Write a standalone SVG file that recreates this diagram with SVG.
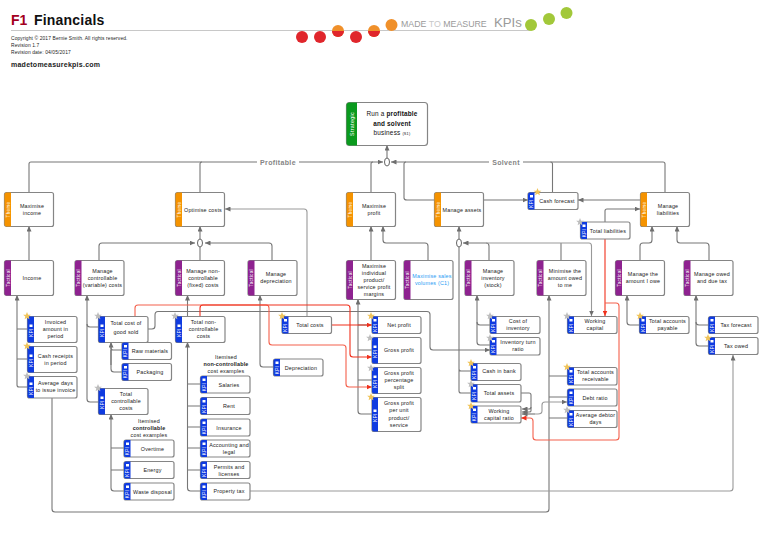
<svg xmlns="http://www.w3.org/2000/svg" width="768" height="547" viewBox="0 0 768 547">
<style>
text{font-family:"Liberation Sans",Arial,sans-serif}
.bg{fill:#fff}
.b{fill:#fff;stroke:#858585;stroke-width:1.2}
.k{fill:#0f3be0}.ta{fill:#8e2290}.th{fill:#f59300}.s{fill:#0a9a1e}
.t{font-size:5.4px;letter-spacing:.18px;text-anchor:middle;fill:#222}
.m{font-weight:bold}
.v{font-size:4.6px;letter-spacing:.3px;text-anchor:middle;fill:#fff}
.vw{font-size:5.4px;letter-spacing:.3px;text-anchor:middle;fill:#fff}
.c,.cl,.r,.rl{fill:none;stroke-linejoin:round}
.c{stroke:#777;stroke-width:1.1}
.cl{stroke:#999;stroke-width:1.1}
.r{stroke:#f0301c;stroke-width:1.1}
.rl{stroke:#f4604c;stroke-width:1.1}
.ar{marker-end:url(#ag)}
.arr{marker-end:url(#ar)}
.lab{font-size:7px;font-weight:bold;letter-spacing:.35px;text-anchor:middle;fill:#858585}
.o{fill:#fff;stroke:#666;stroke-width:1}
.gs{fill:#bdbdbd}.ys{fill:#f0c45a}
.i{fill:#fff}
</style>
<defs>
<marker id="ag" markerUnits="userSpaceOnUse" markerWidth="5.5" markerHeight="5" refX="5.5" refY="2.5" orient="auto"><path d="M0,0L5.5,2.5L0,5z" fill="#6e6e6e"/></marker>
<marker id="ar" markerUnits="userSpaceOnUse" markerWidth="5.5" markerHeight="5" refX="5.5" refY="2.5" orient="auto"><path d="M0,0L5.5,2.5L0,5z" fill="#f0301c"/></marker>
<polygon id="st" points="0,-4 1.1,-1.3 3.9,-1.2 1.7,.5 2.4,3.2 0,1.7 -2.4,3.2 -1.7,.5 -3.9,-1.2 -1.1,-1.3"/>
</defs>

<g id="header">
<line x1="11" y1="30.5" x2="530" y2="30.5" stroke="#c8c8c8" stroke-width="1"/>
<text x="11" y="25" font-size="14" font-weight="bold" fill="#a3001e">F1</text>
<text x="34" y="25" font-size="14" font-weight="bold" letter-spacing=".2" fill="#111">Financials</text>
<text x="11" y="40" font-size="4.9" letter-spacing=".12" fill="#222">Copyright © 2017 Bernie Smith. All rights reserved.</text>
<text x="11" y="47" font-size="4.9" letter-spacing=".12" fill="#222">Revision 1.7</text>
<text x="11" y="54" font-size="4.9" letter-spacing=".12" fill="#222">Revision date: 04/05/2017</text>
<text x="11" y="67" font-size="7" font-weight="bold" letter-spacing=".25" fill="#222">madetomeasurekpis.com</text>
<circle cx="338" cy="31" r="6" fill="#f0902a"/><path d="M332,31A6,6 0 0 0 344,31z" fill="#e0262c"/>
<circle cx="374" cy="31" r="6" fill="#f0902a"/><path d="M368,31A6,6 0 0 0 380,31z" fill="#e0262c"/>
<circle cx="302" cy="37" r="6" fill="#e0262c"/>
<circle cx="320" cy="37" r="6" fill="#e0262c"/>
<circle cx="356" cy="37" r="6" fill="#e0262c"/>
<circle cx="391.500" cy="25" r="6" fill="#f0902a"/>
<circle cx="531" cy="25" r="6" fill="#a2c83a"/>
<circle cx="549" cy="19" r="6" fill="#a2c83a"/>
<circle cx="566.500" cy="13" r="6" fill="#a2c83a"/>
<text x="401" y="27" font-size="8.800" fill="#9a9a9a">MADE <tspan fill="#c8c8c8">TO</tspan> MEASURE</text>
<text x="494" y="27" font-size="13.200" fill="#9a9a9a">KPIs</text>
</g>

<g id="connectors">
<path class="c" d="M29,192V164Q29,162 31,162H257M299,162H383" marker-end="url(#ag)"/>
<path class="c" d="M200,192V164Q200,162 202,162M371,192V164Q371,162 373,162"/>
<path class="c ar" d="M387,158V145"/>
<path class="c" d="M665,192V164Q665,162 663,162H523M489,162H391" marker-end="url(#ag)"/>
<path class="c" d="M552.500,192V164Q552.500,162 550.500,162"/>
<path class="c" d="M434,200H407Q404,200 404,198V164Q404,162 406,162"/>
<path class="c ar" d="M484,200H528"/>
<path class="c ar" d="M640,200H578"/>
<path class="c ar" d="M605,222V211Q605,209 607,209H640"/>
<path class="c ar" d="M29,260V226"/>
<path class="c ar" d="M99,260V246Q99,243 102,243H195"/>
<path class="c" d="M200,260V247"/>
<path class="c ar" d="M200,239V226"/>
<path class="c ar" d="M272,260V246Q272,243 269,243H205"/>
<path class="cl ar" d="M307,316V212Q307,209 304,209H225"/>
<path class="c ar" d="M371,260V226"/>
<path class="c ar" d="M428,260V246Q428,243 425,243H386Q383,243 383,240V226"/>
<path class="c ar" d="M459,239V226"/>
<path class="c ar" d="M489,260V246Q489,243 486,243H463"/>
<path class="c" d="M561,260V243"/>
<path class="cl ar" d="M486,243H589Q591.500,243 591.500,246V316"/>
<path class="c ar" d="M640,260V246Q640,243 643,243H649Q652,243 652,240V226"/>
<path class="c ar" d="M709,260V246Q709,243 706,243H680Q677,243 677,240V226"/>
<path class="c" d="M459,247V369Q459,371 461,371H471M459,369V391Q459,393 461,393H471"/>
<path class="c ar" d="M17,316V295"/>
<path class="c" d="M17,316V385Q17,387 19,387H27M17,329H27M17,359H27"/>
<path class="c ar" d="M98,327H90Q87,327 87,324V295"/>
<path class="c" d="M87,324V399Q87,402 90,402H98"/>
<path class="c ar" d="M111,365V342"/>
<path class="c" d="M111,345V348Q111,350 113,350H122M111,350V369Q111,372 114,372H122"/>
<path class="c ar" d="M111,440V414"/>
<path class="c" d="M111,440V488Q111,491 114,491H124M111,448H124M111,470H124"/>
<path class="c ar" d="M187.500,316V295"/>
<path class="c ar" d="M187.500,380V342"/>
<path class="c" d="M187.500,380V488Q187.500,491 190.500,491H200M187.500,384H200M187.500,406H200M187.500,427H200M187.500,448H200M187.500,470H200"/>
<path class="c ar" d="M273,367H263Q260,367 260,364V295"/>
<path class="c ar" d="M358,325V299"/>
<path class="c" d="M358,325V411Q358,414 361,414H372M358,325H372M358,350H372M358,380H372"/>
<path class="c ar" d="M490,325H480Q477,325 477,322V295"/>
<path class="c" d="M477,322V342Q477,345 480,345H490"/>
<path class="c ar" d="M549,340V295"/>
<path class="c" d="M549,340V509Q549,512 546,512H55Q52,512 52,509V398"/>
<path class="c" d="M549,376H567M549,397H567M549,418H567"/>
<path class="c ar" d="M639,325H630Q627,325 627,322V295"/>
<path class="c ar" d="M708,325H699Q696,325 696,322V295"/>
<path class="c" d="M696,322V343Q696,346 699,346H708"/>
<path class="cl ar" d="M250,491H730Q733,491 733,488V355"/>
<path class="c ar" d="M148,329H152Q155,329 155,326V315Q155,311.500 158,311.500H427Q430,311.500 430,314.500V347Q430,350 433,350H490"/>
<path class="c ar" d="M521,393H529Q531,393 531,395V407Q531,409 529,409H522"/>
<path class="c ar" d="M531,407V411Q531,412 529,412H522"/>
<path class="cl ar" d="M522,414H538Q542,414 542,411V405Q542,402 545,402H567"/>
<path class="cl ar" d="M535,414H522"/>
<path class="rl" d="M135,316V308Q135,305 138,305H266Q269,305 269,308V342Q269,345 272,345H343Q346,345 346,348V384Q346,387 349,387H372" marker-end="url(#ar)"/>
<path class="r arr" d="M200,316V308Q200,305 203,305H347Q350,305 350,308V354Q350,357 353,357H372"/>
<path class="r arr" d="M332,325H372"/>
<path class="r arr" d="M605,239V316"/>
<path class="rl arr" d="M605,303H616Q619,303 619,306V437Q619,440 616,440H536Q533,440 533,437V421Q533,418 530,418H521"/>
<ellipse class="o" cx="387" cy="162" rx="2.500" ry="4"/>
<ellipse class="o" cx="200" cy="243" rx="2.500" ry="4"/>
<ellipse class="o" cx="459" cy="243" rx="2.500" ry="4"/>
<text class="lab" x="278" y="164.500">Profitable</text>
<text class="lab" x="506" y="164.500">Solvent</text>
</g>

<g id="strategic-run"><rect class="b" x="346.500" y="102.500" width="81" height="43" rx="3"/><path class="s" d="M357,102.500H349.500q-3,0,-3,3V142.500q0,3,3,3H357z"/><text class="vw" x="354" y="124" transform="rotate(-90 354 124)">Strategic</text><text font-size="6.400" letter-spacing=".2" text-anchor="middle" fill="#111" x="392" y="116"><tspan x="392">Run a <tspan font-weight="bold">profitable</tspan></tspan><tspan x="392" dy="9.700" font-weight="bold">and solvent</tspan><tspan x="392" dy="9">business <tspan font-size="3.800">(S1)</tspan></tspan></text></g>

<g id="theme-maximise-income"><rect class="b" x="4.500" y="192.500" width="49" height="34" rx="2"/><path class="th" d="M11,192.500H6.500q-2,0,-2,2V224.500q0,2,2,2H11z"/><text class="v" x="9.500" y="209.500" transform="rotate(-90 9.500 209.500)">Theme</text><text class="t" y="207.500"><tspan x="32">Maximise</tspan><tspan x="32" dy="7">income</tspan></text></g>
<g id="theme-optimise-costs"><rect class="b" x="175.500" y="192.500" width="49" height="34" rx="2"/><path class="th" d="M182,192.500H177.500q-2,0,-2,2V224.500q0,2,2,2H182z"/><text class="v" x="180.500" y="209.500" transform="rotate(-90 180.500 209.500)">Theme</text><text class="t" x="203" y="211.500">Optimise costs</text></g>
<g id="theme-maximise-profit"><rect class="b" x="346.500" y="192.500" width="49" height="34" rx="2"/><path class="th" d="M353,192.500H348.500q-2,0,-2,2V224.500q0,2,2,2H353z"/><text class="v" x="351.500" y="209.500" transform="rotate(-90 351.500 209.500)">Theme</text><text class="t" y="207.500"><tspan x="374">Maximise</tspan><tspan x="374" dy="7">profit</tspan></text></g>
<g id="theme-manage-assets"><rect class="b" x="434.500" y="192.500" width="49" height="34" rx="2"/><path class="th" d="M441,192.500H436.500q-2,0,-2,2V224.500q0,2,2,2H441z"/><text class="v" x="439.500" y="209.500" transform="rotate(-90 439.500 209.500)">Theme</text><text class="t" x="462" y="211.500">Manage assets</text></g>
<g id="theme-manage-liabilities"><rect class="b" x="640.500" y="192.500" width="49" height="34" rx="2"/><path class="th" d="M647,192.500H642.500q-2,0,-2,2V224.500q0,2,2,2H647z"/><text class="v" x="645.500" y="209.500" transform="rotate(-90 645.500 209.500)">Theme</text><text class="t" y="207.500"><tspan x="668">Manage</tspan><tspan x="668" dy="7">liabilities</tspan></text></g>

<g id="tactical-income"><rect class="b" x="4.500" y="260.500" width="49" height="35" rx="2"/><path class="ta" d="M11,260.500H6.500q-2,0,-2,2V293.500q0,2,2,2H11z"/><text class="v" x="9.500" y="278" transform="rotate(-90 9.500 278)">Tactical</text><text class="t" x="32" y="279.500">Income</text></g>
<g id="tactical-controllable"><rect class="b" x="75" y="260.500" width="49" height="35" rx="2"/><path class="ta" d="M81.500,260.500H77q-2,0,-2,2V293.500q0,2,2,2H81.500z"/><text class="v" x="80" y="278" transform="rotate(-90 80 278)">Tactical</text><text class="t" y="272.500"><tspan x="102.500">Manage</tspan><tspan x="102.500" dy="7">controllable</tspan><tspan x="102.500" dy="7">(variable) costs</tspan></text></g>
<g id="tactical-non-controllable"><rect class="b" x="175.500" y="260.500" width="49" height="35" rx="2"/><path class="ta" d="M182,260.500H177.500q-2,0,-2,2V293.500q0,2,2,2H182z"/><text class="v" x="180.500" y="278" transform="rotate(-90 180.500 278)">Tactical</text><text class="t" y="272.500"><tspan x="203">Manage non-</tspan><tspan x="203" dy="7">controllable</tspan><tspan x="203" dy="7">(fixed) costs</tspan></text></g>
<g id="tactical-depreciation"><rect class="b" x="248" y="260.500" width="49" height="35" rx="2"/><path class="ta" d="M254.500,260.500H250q-2,0,-2,2V293.500q0,2,2,2H254.500z"/><text class="v" x="253" y="278" transform="rotate(-90 253 278)">Tactical</text><text class="t" y="275.500"><tspan x="276">Manage</tspan><tspan x="276" dy="7">depreciation</tspan></text></g>
<g id="tactical-margins"><rect class="b" x="346.500" y="260.500" width="49" height="39" rx="2"/><path class="ta" d="M353,260.500H348.500q-2,0,-2,2V297.500q0,2,2,2H353z"/><text class="v" x="351.500" y="280" transform="rotate(-90 351.500 280)">Tactical</text><text class="t" y="267.500"><tspan x="374">Maximise</tspan><tspan x="374" dy="7">individual</tspan><tspan x="374" dy="7">product/</tspan><tspan x="374" dy="7">service profit</tspan><tspan x="374" dy="7">margins</tspan></text></g>
<g id="tactical-sales"><rect class="b" x="404" y="260.500" width="49" height="39" rx="2"/><path class="ta" d="M410.500,260.500H406q-2,0,-2,2V297.500q0,2,2,2H410.500z"/><text class="v" x="409" y="280" transform="rotate(-90 409 280)">Tactical</text><text class="t" y="277.500" style="fill:#2a9df4"><tspan x="432">Maximise sales</tspan><tspan x="432" dy="7.500">volumes (C1)</tspan></text></g>
<g id="tactical-inventory"><rect class="b" x="465" y="260.500" width="49" height="35" rx="2"/><path class="ta" d="M471.500,260.500H467q-2,0,-2,2V293.500q0,2,2,2H471.500z"/><text class="v" x="470" y="278" transform="rotate(-90 470 278)">Tactical</text><text class="t" y="272.500"><tspan x="493">Manage</tspan><tspan x="493" dy="7">inventory</tspan><tspan x="493" dy="7">(stock)</tspan></text></g>
<g id="tactical-minimise"><rect class="b" x="537" y="260.500" width="49" height="35" rx="2"/><path class="ta" d="M543.500,260.500H539q-2,0,-2,2V293.500q0,2,2,2H543.500z"/><text class="v" x="542" y="278" transform="rotate(-90 542 278)">Tactical</text><text class="t" y="272.500"><tspan x="565">Minimise the</tspan><tspan x="565" dy="7">amount owed</tspan><tspan x="565" dy="7">to me</tspan></text></g>
<g id="tactical-amount-owe"><rect class="b" x="615.500" y="260.500" width="49" height="35" rx="2"/><path class="ta" d="M622,260.500H617.500q-2,0,-2,2V293.500q0,2,2,2H622z"/><text class="v" x="620.500" y="278" transform="rotate(-90 620.500 278)">Tactical</text><text class="t" y="275.500"><tspan x="643">Manage the</tspan><tspan x="643" dy="7">amount I owe</tspan></text></g>
<g id="tactical-tax"><rect class="b" x="684" y="260.500" width="49" height="35" rx="2"/><path class="ta" d="M690.500,260.500H686q-2,0,-2,2V293.500q0,2,2,2H690.500z"/><text class="v" x="689" y="278" transform="rotate(-90 689 278)">Tactical</text><text class="t" y="275.500"><tspan x="712">Manage owed</tspan><tspan x="712" dy="7">and due tax</tspan></text></g>

<g id="kpi-invoiced"><rect class="b" x="27.500" y="316.500" width="49.500" height="26" rx="2"/><path class="k" d="M34,316.500H29.500q-2,0,-2,2V340.500q0,2,2,2H34z"/><rect class="i" x="29.500" y="324.500" width="3" height="2.500"/><text class="v" x="32.500" y="332.500" transform="rotate(-90 32.500 332.500)">KPI</text><use href="#st" class="ys" x="27" y="316"/><text class="t" y="324"><tspan x="55.500">Invoiced</tspan><tspan x="55.500" dy="7">amount in</tspan><tspan x="55.500" dy="7">period</tspan></text></g>
<g id="kpi-cash-receipts"><rect class="b" x="27.500" y="346.500" width="49.500" height="26" rx="2"/><path class="k" d="M34,346.500H29.500q-2,0,-2,2V370.500q0,2,2,2H34z"/><rect class="i" x="29.500" y="354.500" width="3" height="2.500"/><text class="v" x="32.500" y="362.500" transform="rotate(-90 32.500 362.500)">KPI</text><use href="#st" class="ys" x="27" y="346"/><text class="t" y="357.500"><tspan x="55.500">Cash receipts</tspan><tspan x="55.500" dy="7">in period</tspan></text></g>
<g id="kpi-average-days"><rect class="b" x="27.500" y="376.500" width="49.500" height="21.500" rx="2"/><path class="k" d="M34,376.500H29.500q-2,0,-2,2V396q0,2,2,2H34z"/><rect class="i" x="29.500" y="382.500" width="3" height="2.500"/><text class="v" x="32.500" y="390.500" transform="rotate(-90 32.500 390.500)">KPI</text><use href="#st" class="gs" x="27" y="376"/><text class="t" y="385"><tspan x="55.500">Average days</tspan><tspan x="55.500" dy="7">to issue invoice</tspan></text></g>
<g id="kpi-total-cost-sold"><rect class="b" x="98.500" y="316.500" width="49.500" height="26" rx="2"/><path class="k" d="M105,316.500H100.500q-2,0,-2,2V340.500q0,2,2,2H105z"/><rect class="i" x="100.500" y="324.500" width="3" height="2.500"/><text class="v" x="103.500" y="332.500" transform="rotate(-90 103.500 332.500)">KPI</text><use href="#st" class="gs" x="98" y="316"/><text class="t" y="324.500"><tspan x="126">Total cost of</tspan><tspan x="126" dy="9">good sold</tspan></text></g>
<g id="kpi-raw-materials"><rect class="b" x="122" y="342.500" width="49.500" height="17" rx="2"/><path class="k" d="M128.500,342.500H124q-2,0,-2,2V357.500q0,2,2,2H128.500z"/><rect class="i" x="124" y="345" width="3" height="2.500"/><text class="v" x="127" y="353" transform="rotate(-90 127 353)">KPI</text><text class="t" x="150" y="352.500">Raw materials</text></g>
<g id="kpi-packaging"><rect class="b" x="122" y="363.500" width="49.500" height="17" rx="2"/><path class="k" d="M128.500,363.500H124q-2,0,-2,2V378.500q0,2,2,2H128.500z"/><rect class="i" x="124" y="366" width="3" height="2.500"/><text class="v" x="127" y="374" transform="rotate(-90 127 374)">KPI</text><text class="t" x="150" y="373.500">Packaging</text></g>
<g id="kpi-total-controllable"><rect class="b" x="98.500" y="388.500" width="49.500" height="26" rx="2"/><path class="k" d="M105,388.500H100.500q-2,0,-2,2V412.500q0,2,2,2H105z"/><rect class="i" x="100.500" y="396.500" width="3" height="2.500"/><text class="v" x="103.500" y="404.500" transform="rotate(-90 103.500 404.500)">KPI</text><use href="#st" class="gs" x="98" y="388"/><text class="t" y="396"><tspan x="126">Total</tspan><tspan x="126" dy="7">controllable</tspan><tspan x="126" dy="7">costs</tspan></text></g>
<g id="kpi-overtime"><rect class="b" x="124" y="440" width="50" height="17" rx="2"/><path class="k" d="M130.500,440H126q-2,0,-2,2V455q0,2,2,2H130.500z"/><rect class="i" x="126" y="442.500" width="3" height="2.500"/><text class="v" x="129" y="451" transform="rotate(-90 129 451)">KPI</text><text class="t" x="152.500" y="450.500">Overtime</text></g>
<g id="kpi-energy"><rect class="b" x="124" y="461.500" width="50" height="17" rx="2"/><path class="k" d="M130.500,461.500H126q-2,0,-2,2V476.500q0,2,2,2H130.500z"/><rect class="i" x="126" y="464" width="3" height="2.500"/><text class="v" x="129" y="472.500" transform="rotate(-90 129 472.500)">KPI</text><text class="t" x="152.500" y="472">Energy</text></g>
<g id="kpi-waste"><rect class="b" x="124" y="483" width="50" height="17" rx="2"/><path class="k" d="M130.500,483H126q-2,0,-2,2V498q0,2,2,2H130.500z"/><rect class="i" x="126" y="485.500" width="3" height="2.500"/><text class="v" x="129" y="494" transform="rotate(-90 129 494)">KPI</text><text class="t" x="152.500" y="493.500">Waste disposal</text></g>
<g id="kpi-total-non-controllable"><rect class="b" x="175.500" y="316.500" width="49.500" height="26" rx="2"/><path class="k" d="M182,316.500H177.500q-2,0,-2,2V340.500q0,2,2,2H182z"/><rect class="i" x="177.500" y="324.500" width="3" height="2.500"/><text class="v" x="180.500" y="332.500" transform="rotate(-90 180.500 332.500)">KPI</text><use href="#st" class="gs" x="175" y="316"/><text class="t" y="324"><tspan x="203.500">Total non-</tspan><tspan x="203.500" dy="7">controllable</tspan><tspan x="203.500" dy="7">costs</tspan></text></g>
<g id="kpi-salaries"><rect class="b" x="200.500" y="376" width="49.500" height="17" rx="2"/><path class="k" d="M207,376H202.500q-2,0,-2,2V391q0,2,2,2H207z"/><rect class="i" x="202.500" y="378.500" width="3" height="2.500"/><text class="v" x="205.500" y="387" transform="rotate(-90 205.500 387)">KPI</text><text class="t" x="229" y="386.500">Salaries</text></g>
<g id="kpi-rent"><rect class="b" x="200.500" y="397.500" width="49.500" height="17" rx="2"/><path class="k" d="M207,397.500H202.500q-2,0,-2,2V412.500q0,2,2,2H207z"/><rect class="i" x="202.500" y="400" width="3" height="2.500"/><text class="v" x="205.500" y="408.500" transform="rotate(-90 205.500 408.500)">KPI</text><text class="t" x="229" y="407.500">Rent</text></g>
<g id="kpi-insurance"><rect class="b" x="200.500" y="419" width="49.500" height="17" rx="2"/><path class="k" d="M207,419H202.500q-2,0,-2,2V434q0,2,2,2H207z"/><rect class="i" x="202.500" y="421.500" width="3" height="2.500"/><text class="v" x="205.500" y="430" transform="rotate(-90 205.500 430)">KPI</text><text class="t" x="229" y="429.500">Insurance</text></g>
<g id="kpi-accounting"><rect class="b" x="200.500" y="440" width="49.500" height="17" rx="2"/><path class="k" d="M207,440H202.500q-2,0,-2,2V455q0,2,2,2H207z"/><rect class="i" x="202.500" y="442.500" width="3" height="2.500"/><text class="v" x="205.500" y="451" transform="rotate(-90 205.500 451)">KPI</text><text class="t" y="446.500"><tspan x="229">Accounting and</tspan><tspan x="229" dy="7">legal</tspan></text></g>
<g id="kpi-permits"><rect class="b" x="200.500" y="461.500" width="49.500" height="17" rx="2"/><path class="k" d="M207,461.500H202.500q-2,0,-2,2V476.500q0,2,2,2H207z"/><rect class="i" x="202.500" y="464" width="3" height="2.500"/><text class="v" x="205.500" y="472.500" transform="rotate(-90 205.500 472.500)">KPI</text><text class="t" y="468.500"><tspan x="229">Permits and</tspan><tspan x="229" dy="7">licenses</tspan></text></g>
<g id="kpi-property-tax"><rect class="b" x="200.500" y="483" width="49.500" height="17" rx="2"/><path class="k" d="M207,483H202.500q-2,0,-2,2V498q0,2,2,2H207z"/><rect class="i" x="202.500" y="485.500" width="3" height="2.500"/><text class="v" x="205.500" y="494" transform="rotate(-90 205.500 494)">KPI</text><text class="t" x="229" y="492.500">Property tax</text></g>
<g id="kpi-total-costs"><rect class="b" x="282" y="316.500" width="49.500" height="17" rx="2"/><path class="k" d="M288.500,316.500H284q-2,0,-2,2V331.500q0,2,2,2H288.500z"/><rect class="i" x="284" y="319" width="3" height="2.500"/><text class="v" x="287" y="327.500" transform="rotate(-90 287 327.500)">KPI</text><use href="#st" class="ys" x="282" y="316"/><text class="t" x="310" y="327">Total costs</text></g>
<g id="kpi-depreciation"><rect class="b" x="273.500" y="359" width="49.500" height="17" rx="2"/><path class="k" d="M280,359H275.500q-2,0,-2,2V374q0,2,2,2H280z"/><rect class="i" x="275.500" y="361.500" width="3" height="2.500"/><text class="v" x="278.500" y="370" transform="rotate(-90 278.500 370)">KPI</text><text class="t" x="301" y="369.500">Depreciation</text></g>
<g id="kpi-net-profit"><rect class="b" x="372" y="316.500" width="49" height="17" rx="2"/><path class="k" d="M378,316.500H374q-2,0,-2,2V331.500q0,2,2,2H378z"/><rect class="i" x="373.500" y="319" width="3" height="2.500"/><text class="v" x="376.500" y="327.500" transform="rotate(-90 376.500 327.500)">KPI</text><use href="#st" class="ys" x="371" y="316"/><text class="t" x="399" y="327">Net profit</text></g>
<g id="kpi-gross-profit"><rect class="b" x="372" y="337.500" width="49" height="26" rx="2"/><path class="k" d="M378,337.500H374q-2,0,-2,2V361.500q0,2,2,2H378z"/><rect class="i" x="373.500" y="345.500" width="3" height="2.500"/><text class="v" x="376.500" y="353.500" transform="rotate(-90 376.500 353.500)">KPI</text><use href="#st" class="gs" x="370" y="338"/><text class="t" x="399" y="352">Gross profit</text></g>
<g id="kpi-gross-percentage"><rect class="b" x="372" y="367.500" width="49" height="26" rx="2"/><path class="k" d="M378,367.500H374q-2,0,-2,2V391.500q0,2,2,2H378z"/><rect class="i" x="373.500" y="375.500" width="3" height="2.500"/><text class="v" x="376.500" y="383.500" transform="rotate(-90 376.500 383.500)">KPI</text><use href="#st" class="gs" x="371" y="368"/><text class="t" y="375"><tspan x="399">Gross profit</tspan><tspan x="399" dy="7">percentage</tspan><tspan x="399" dy="7">split</tspan></text></g>
<g id="kpi-gross-per-unit"><rect class="b" x="372" y="397.500" width="49" height="34" rx="2"/><path class="k" d="M378,397.500H374q-2,0,-2,2V429.500q0,2,2,2H378z"/><rect class="i" x="373.500" y="409.500" width="3" height="2.500"/><text class="v" x="376.500" y="417.500" transform="rotate(-90 376.500 417.500)">KPI</text><use href="#st" class="ys" x="371" y="397"/><text class="t" y="405"><tspan x="399">Gross profit</tspan><tspan x="399" dy="7.400">per unit</tspan><tspan x="399" dy="7.400">product/</tspan><tspan x="399" dy="7.400">service</tspan></text></g>
<g id="kpi-cost-inventory"><rect class="b" x="490" y="316.500" width="50" height="17" rx="2"/><path class="k" d="M496.500,316.500H492q-2,0,-2,2V331.500q0,2,2,2H496.500z"/><rect class="i" x="492" y="319" width="3" height="2.500"/><text class="v" x="495" y="327.500" transform="rotate(-90 495 327.500)">KPI</text><use href="#st" class="gs" x="490" y="316"/><text class="t" y="323"><tspan x="518">Cost of</tspan><tspan x="518" dy="7">inventory</tspan></text></g>
<g id="kpi-inventory-turn"><rect class="b" x="490" y="337.500" width="50" height="17.500" rx="2"/><path class="k" d="M496.500,337.500H492q-2,0,-2,2V353q0,2,2,2H496.500z"/><rect class="i" x="492" y="340" width="3" height="2.500"/><text class="v" x="495" y="348.500" transform="rotate(-90 495 348.500)">KPI</text><use href="#st" class="gs" x="490" y="338"/><text class="t" y="344"><tspan x="518">Inventory turn</tspan><tspan x="518" dy="7">ratio</tspan></text></g>
<g id="kpi-cash-bank"><rect class="b" x="471" y="363.500" width="50" height="17" rx="2"/><path class="k" d="M477.500,363.500H473q-2,0,-2,2V378.500q0,2,2,2H477.500z"/><rect class="i" x="473" y="366" width="3" height="2.500"/><text class="v" x="476" y="374.500" transform="rotate(-90 476 374.500)">KPI</text><use href="#st" class="ys" x="471" y="363"/><text class="t" x="499" y="373">Cash in bank</text></g>
<g id="kpi-total-assets"><rect class="b" x="471" y="384.500" width="50" height="17.500" rx="2"/><path class="k" d="M477.500,384.500H473q-2,0,-2,2V400q0,2,2,2H477.500z"/><rect class="i" x="473" y="387" width="3" height="2.500"/><text class="v" x="476" y="395.500" transform="rotate(-90 476 395.500)">KPI</text><use href="#st" class="gs" x="471" y="384"/><text class="t" x="499" y="395">Total assets</text></g>
<g id="kpi-wc-ratio"><rect class="b" x="471" y="406" width="50" height="17" rx="2"/><path class="k" d="M477.500,406H473q-2,0,-2,2V421q0,2,2,2H477.500z"/><rect class="i" x="473" y="408.500" width="3" height="2.500"/><text class="v" x="476" y="417" transform="rotate(-90 476 417)">KPI</text><use href="#st" class="ys" x="471" y="406"/><text class="t" y="412.500"><tspan x="499">Working</tspan><tspan x="499" dy="7">capital ratio</tspan></text></g>
<g id="kpi-working-capital"><rect class="b" x="567.500" y="316.500" width="49.500" height="17" rx="2"/><path class="k" d="M574,316.500H569.500q-2,0,-2,2V331.500q0,2,2,2H574z"/><rect class="i" x="569.500" y="319" width="3" height="2.500"/><text class="v" x="572.500" y="327.500" transform="rotate(-90 572.500 327.500)">KPI</text><use href="#st" class="gs" x="567" y="316"/><text class="t" y="323"><tspan x="595">Working</tspan><tspan x="595" dy="7">capital</tspan></text></g>
<g id="kpi-accounts-receivable"><rect class="b" x="567.500" y="367.500" width="49.500" height="17.500" rx="2"/><path class="k" d="M574,367.500H569.500q-2,0,-2,2V383q0,2,2,2H574z"/><rect class="i" x="569.500" y="370" width="3" height="2.500"/><text class="v" x="572.500" y="378.500" transform="rotate(-90 572.500 378.500)">KPI</text><use href="#st" class="ys" x="567" y="367"/><text class="t" y="374"><tspan x="595.500">Total accounts</tspan><tspan x="595.500" dy="7">receivable</tspan></text></g>
<g id="kpi-debt-ratio"><rect class="b" x="567.500" y="389" width="49.500" height="17" rx="2"/><path class="k" d="M574,389H569.500q-2,0,-2,2V404q0,2,2,2H574z"/><rect class="i" x="569.500" y="391.500" width="3" height="2.500"/><text class="v" x="572.500" y="400" transform="rotate(-90 572.500 400)">KPI</text><text class="t" x="595" y="399.500">Debt ratio</text></g>
<g id="kpi-average-debtor"><rect class="b" x="567.500" y="410.500" width="49.500" height="17" rx="2"/><path class="k" d="M574,410.500H569.500q-2,0,-2,2V425.500q0,2,2,2H574z"/><rect class="i" x="569.500" y="413" width="3" height="2.500"/><text class="v" x="572.500" y="421.500" transform="rotate(-90 572.500 421.500)">KPI</text><use href="#st" class="gs" x="567" y="410"/><text class="t" y="417"><tspan x="595.500">Average debtor</tspan><tspan x="595.500" dy="7">days</tspan></text></g>
<g id="kpi-accounts-payable"><rect class="b" x="639.500" y="316.500" width="49.500" height="17" rx="2"/><path class="k" d="M646,316.500H641.500q-2,0,-2,2V331.500q0,2,2,2H646z"/><rect class="i" x="641.500" y="319" width="3" height="2.500"/><text class="v" x="644.500" y="327.500" transform="rotate(-90 644.500 327.500)">KPI</text><use href="#st" class="ys" x="640" y="316"/><text class="t" y="323"><tspan x="667.500">Total accounts</tspan><tspan x="667.500" dy="7">payable</tspan></text></g>
<g id="kpi-tax-forecast"><rect class="b" x="708.500" y="316.500" width="49.500" height="17" rx="2"/><path class="k" d="M715,316.500H710.500q-2,0,-2,2V331.500q0,2,2,2H715z"/><rect class="i" x="710.500" y="319" width="3" height="2.500"/><text class="v" x="713.500" y="327.500" transform="rotate(-90 713.500 327.500)">KPI</text><text class="t" x="736" y="327">Tax forecast</text></g>
<g id="kpi-tax-owed"><rect class="b" x="708.500" y="337.500" width="49.500" height="17" rx="2"/><path class="k" d="M715,337.500H710.500q-2,0,-2,2V352.500q0,2,2,2H715z"/><rect class="i" x="710.500" y="340" width="3" height="2.500"/><text class="v" x="713.500" y="348.500" transform="rotate(-90 713.500 348.500)">KPI</text><use href="#st" class="ys" x="708" y="338"/><text class="t" x="736" y="348">Tax owed</text></g>
<g id="kpi-cash-forecast"><rect class="b" x="528" y="192.500" width="50" height="17" rx="2"/><path class="k" d="M534.500,192.500H530q-2,0,-2,2V207.500q0,2,2,2H534.500z"/><rect class="i" x="530" y="195" width="3" height="2.500"/><text class="v" x="533" y="203.500" transform="rotate(-90 533 203.500)">KPI</text><use href="#st" class="ys" x="537.500" y="192"/><text class="t" x="557" y="202.500">Cash forecast</text></g>
<g id="kpi-total-liabilities"><rect class="b" x="580.500" y="222" width="49.500" height="17" rx="2"/><path class="k" d="M587,222H582.500q-2,0,-2,2V237q0,2,2,2H587z"/><rect class="i" x="582.500" y="224.500" width="3" height="2.500"/><text class="v" x="585.500" y="233" transform="rotate(-90 585.500 233)">KPI</text><use href="#st" class="gs" x="580" y="222"/><text class="t" x="608" y="232.500">Total liabilities</text></g>

<g id="note-non-controllable"><text class="t" y="359"><tspan x="226">Itemised</tspan><tspan x="226" dy="7" class="m">non-controllable</tspan><tspan x="226" dy="7">cost examples</tspan></text></g>
<g id="note-controllable"><text class="t" y="423"><tspan x="149">Itemised</tspan><tspan x="149" dy="7" class="m">controllable</tspan><tspan x="149" dy="7">cost examples</tspan></text></g>
</svg>
